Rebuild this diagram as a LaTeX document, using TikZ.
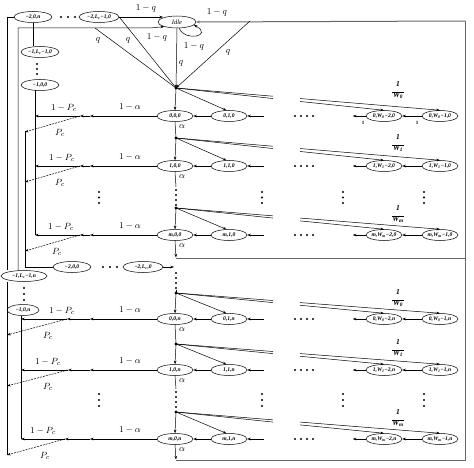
\documentclass[tikz,border=0pt]{standalone}
\usepackage{fontspec}
\setmainfont{Liberation Serif}
\usetikzlibrary{arrows.meta,shapes.geometric}
\newcommand\mkstates[6]{%
  \node[st] (#1a) at (175,#2) {#5,0,#6};
  \node[st] (#1b) at (229,#2) {#5,1,#6};
  \node[st] (#1c) at (384,#2) {#5,W\textsubscript{#5}−2,#6};
  \node[st] (#1d) at (440,#2) {#5,W\textsubscript{#5}−1,#6};
  \coordinate (#1h) at (176,#3);
  \node[fr] (#1fa) at (398,#4-5.5) {1};
  \node[fr] (#1fb) at (398,#4+6) {W\textsubscript{#5}};
  \draw[line width=0.6pt] (#1fb.north west) -- (#1fb.north east);
}
\newcommand\mkfan[3]{%
  \fill (#1h) circle (1.7pt);
  \draw[arr] (#1h) -- (#1a.north);
  \draw[arr] (#1h) -- (#1b.115);
  \draw (#1h) -- (273,{#3+(#2-5.5-#3)*0.4686});
  \draw[arr] (300,{#3+(#2-5.5-#3)*0.599}) -- (#1c.north);
  \draw (#1h) -- (273,{#3+(#2-5.5-#3)*0.366});
  \draw[arr] (300,{#3+(#2-5.5-#3)*0.468}) -- (#1d.north);
  \draw[arr] (#1d.west) -- (#1c.east);
  \draw[arr] (#1c.west) -- +(-13,0);
  \draw[arr] (264,#2) -- (#1b.east);
  \draw[arr] (#1b.west) -- (#1a.east);
  \node[dt] at (295,#2) {};
  \node[dt] at (301,#2) {};
  \node[dt] at (307,#2) {};
  \node[dt] at (313,#2) {};
}
\newcommand\mkleft[7]{%
  \draw[arr] (#1a.west) -- (90,#2);
  \draw[arr] (90,#2) -- (#3,#2);
  \draw[arr] (#3,#2) -- (#4,#2);
  \draw[pcl] (#3,#2) -- (#5,#2+16);
  \node[lab] at (130,#2-9) {$1-\alpha$};
  \node[lab] at (#6,#2-8) {$1-P_c$};
  \node[lab] at (#7,#2+17) {$P_c$};
  \node[lab] at (182,#2+11) {$\alpha$};
}
\begin{document}
\begin{tikzpicture}[x=1pt,y=-1pt,line width=0.5pt,
  arr/.style={-{Stealth[length=3.6pt,width=2.6pt]}},
  st/.style={draw,fill=white,ellipse,minimum width=36pt,minimum height=11pt,inner sep=0pt,font=\fontsize{5.6}{6}\selectfont\bfseries\itshape},
  lab/.style={font=\fontsize{9.5}{10}\selectfont,inner sep=0pt},
  fr/.style={font=\fontsize{7.5}{8}\selectfont\bfseries\itshape,inner sep=0.5pt},
  pcl/.style={arr,dash pattern=on 2pt off 1pt},
  boxl/.style={draw=black!60,line width=1pt},
  dt/.style={fill=black,circle,inner sep=0pt,minimum size=2.4pt}]
\useasboundingbox (0,0) rectangle (474,468);

% ---------- top-left states ----------
\node[st,minimum width=38pt] (n2n) at (33,17) {−2,0,n};
\node[dt] at (61,17) {};
\node[dt] at (68,17) {};
\node[dt] at (75,17) {};
\node[st,minimum width=40pt] (n2L) at (99,17) {−2,L\textsubscript{c}−1,0};
\node[st,minimum width=38pt,minimum height=12pt,font=\fontsize{6.5}{7}\selectfont\itshape] (idle) at (177,22) {Idle};
\node[st,minimum width=38pt] (m1L) at (40,52) {−1,L\textsubscript{c}−1,0};
\node[dt] at (37,64) {};
\node[dt] at (37,69) {};
\node[dt] at (37,74) {};
\node[st,minimum width=38pt] (m10) at (40,85) {−1,0,0};

% ---------- middle-left states ----------
\node[st,minimum width=38pt] (m20) at (72,267) {−2,0,0};
\node[dt] at (103,267) {};
\node[dt] at (110,267) {};
\node[dt] at (117,267) {};
\node[st,minimum width=40pt] (m2L) at (143,267) {−2,L\textsubscript{c},0};
\node[st,minimum width=46pt] (m1Ln) at (24,276) {−1,L\textsubscript{c}−1,n};
\node[dt] at (24,288) {};
\node[dt] at (24,294) {};
\node[dt] at (24,300) {};
\node[st,minimum width=32pt] (m10n) at (23,310) {−1,0,n};

% ---------- rows ----------
\mkstates{ua}{116}{88}{90}{0}{0}
\mkstates{ub}{166}{138}{143}{1}{0}
\mkstates{uc}{235}{208}{214}{m}{0}
\mkstates{na}{319}{293}{298}{0}{n}
\mkstates{nb}{370}{344}{348}{1}{n}
\mkstates{nc}{439}{412}{418}{m}{n}

\mkfan{ua}{116}{88}
\mkfan{ub}{166}{138}
\mkfan{uc}{235}{208}
\mkfan{na}{319}{293}
\mkfan{nb}{370}{344}
\mkfan{nc}{439}{412}

\mkleft{ua}{116}{80}{35}{25}{64}{60}
\mkleft{ub}{166}{80}{35}{25}{62}{60}
\mkleft{uc}{235}{80}{35}{25}{61}{57}
\mkleft{na}{319}{67}{21}{7}{62}{48}
\mkleft{nb}{370}{68}{21}{7}{48}{48}
\mkleft{nc}{439}{65}{21}{7}{43}{45}

\node[font=\fontsize{5}{6}\selectfont\bfseries] (one1) at (363,123) {1};
\node[font=\fontsize{5}{6}\selectfont\bfseries] (one2) at (417,123) {1};

% ---------- vertical dots between rows ----------
\foreach \yy in {192,197.5,203,394,400,406} {
  \foreach \xx in {99,262,343,424} {\node[dt] at (\xx,\yy) {};}
}
\foreach \yy in {190,195,200,205,273,278,283,288,392,397,402,407} {\node[dt] at (176,\yy) {};}

% ---------- central column ----------
\draw (uaa.south) -- (ubh);
\draw (uba.south) -- (176,187);
\draw[arr] (uca.south) -- (176,257.5);
\draw[arr] (m2L.east) -- (174,267);
\draw (176,290) -- (nah);
\draw (naa.south) -- (nbh);
\draw (nba.south) -- (176,389);
\draw[arr] (nca.south) -- (176,459.5);

% ---------- frame (return to idle) ----------
\draw[boxl] (176,258) -- (465,258);
\draw[boxl] (176,460) -- (465,460) -- (465,21);
\draw[boxl,arr] (465,21) -- (idle.east);
\draw[arr] (250,21) -- (uah);

% ---------- idle connections ----------
\draw[arr] (n2L.east) -- (163,17);
\draw[arr] (idle.south) -- (uah);
\draw (n2L.east) -- (uah);
\draw (95,28) -- (uah);
\draw[arr] (idle.-70) .. controls (184,42) and (214,36) .. (idle.-10);

% ---------- left bus lines ----------
\draw (n2n.west) -- (7,17) -- (7,270);
\draw (7,282) -- (7,455);
\draw (n2n.south) -- (33,46.5);
\draw[arr] (18,270.5) -- (18,28) -- (150,28) -- (idle.200);
\draw (35,90.5) -- (35,235);
\draw (25,131) -- (25,267) -- (m20.west);
\draw (21,315.5) -- (21,439);

% ---------- labels ----------
\node[lab] (l1) at (146,8) {$1-q$};
\node[lab] (l2) at (217,12) {$1-q$};
\node[lab] (l3) at (98,40) {$q$};
\node[lab] (l4) at (128,40) {$q$};
\node[lab] (l5) at (157,37) {$1-q$};
\node[lab] (l6) at (181,63) {$q$};
\node[lab] (l7) at (228,52) {$q$};
\node[lab] (l8) at (194,46) {$1-q$};
\end{tikzpicture}
\end{document}
